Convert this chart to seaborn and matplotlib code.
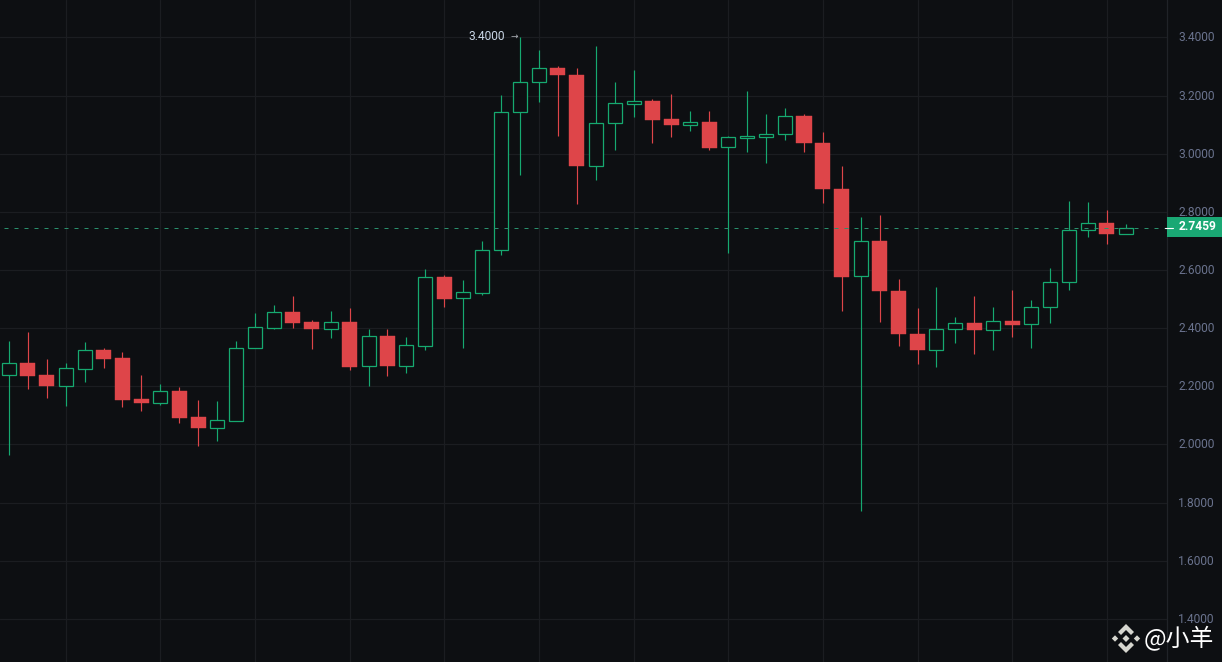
import pandas as pd
import matplotlib
matplotlib.use('Agg')
import matplotlib.pyplot as plt
from matplotlib.patches import Polygon, Rectangle
from matplotlib.transforms import ScaledTranslation
import seaborn as sns

# price data, one entry per candle
opens = [2.237, 2.280, 2.239, 2.202, 2.261, 2.325, 2.298, 2.157, 2.144, 2.184,
         2.095, 2.058, 2.082, 2.330, 2.402, 2.456, 2.421, 2.398, 2.421, 2.268,
         2.373, 2.271, 2.340, 2.576, 2.502, 2.522, 2.667, 3.143, 3.246, 3.295,
         3.271, 2.957, 3.105, 3.172, 3.182, 3.120, 3.100, 3.109, 3.022, 3.055,
         3.057, 3.067, 3.130, 3.037, 2.879, 2.579, 2.700, 2.528, 2.380, 2.324,
         2.396, 2.418, 2.393, 2.425, 2.414, 2.472, 2.558, 2.737, 2.762, 2.725]
closes = [2.279, 2.236, 2.201, 2.262, 2.324, 2.294, 2.153, 2.143, 2.183, 2.091,
          2.057, 2.083, 2.331, 2.403, 2.455, 2.418, 2.397, 2.420, 2.267, 2.372,
          2.270, 2.341, 2.575, 2.501, 2.524, 2.668, 3.143, 3.246, 3.294, 3.269,
          2.959, 3.105, 3.174, 3.181, 3.117, 3.100, 3.108, 3.020, 3.057, 3.060,
          3.067, 3.129, 3.035, 2.877, 2.577, 2.699, 2.526, 2.378, 2.323, 2.396,
          2.417, 2.392, 2.424, 2.412, 2.472, 2.558, 2.737, 2.761, 2.725, 2.7459]
highs = [2.356, 2.386, 2.294, 2.279, 2.352, 2.333, 2.317, 2.238, 2.207, 2.198,
         2.153, 2.150, 2.356, 2.452, 2.480, 2.511, 2.428, 2.459, 2.469, 2.398,
         2.396, 2.370, 2.604, 2.584, 2.565, 2.700, 3.201, 3.400, 3.356, 3.301,
         3.294, 3.371, 3.247, 3.287, 3.187, 3.206, 3.146, 3.147, 3.060, 3.216,
         3.137, 3.156, 3.136, 3.074, 2.957, 2.783, 2.790, 2.569, 2.470, 2.542,
         2.439, 2.509, 2.473, 2.530, 2.496, 2.607, 2.837, 2.834, 2.807, 2.758]
lows = [1.962, 2.192, 2.161, 2.132, 2.214, 2.262, 2.128, 2.115, 2.135, 2.072,
        1.995, 2.012, 2.082, 2.330, 2.397, 2.401, 2.328, 2.367, 2.257, 2.201,
        2.236, 2.247, 2.325, 2.471, 2.331, 2.513, 2.650, 2.925, 3.178, 3.059,
        2.828, 2.911, 3.014, 3.127, 3.038, 3.057, 3.079, 3.014, 2.658, 3.007,
        2.968, 3.048, 3.004, 2.830, 2.460, 1.771, 2.421, 2.340, 2.278, 2.266,
        2.350, 2.312, 2.325, 2.371, 2.333, 2.416, 2.530, 2.715, 2.689, 2.722]
price_ticks = [1.4, 1.6, 1.8, 2.0, 2.2, 2.4, 2.6, 2.8, 3.0, 3.2, 3.4]
time_ticks = [3, 8, 13, 18, 23, 28, 33, 38, 43, 48, 53, 58]
last_price = 2.7459
peak_price = 3.4

BG = '#0d0f12'
GRID = '#1b1d21'
GREEN = '#16a970'
RED = '#de4549'
AXIS_TEXT = '#6a738e'
W, H = 1222, 662

df = pd.DataFrame({'idx': range(len(opens)), 'open': opens, 'close': closes,
                   'high': highs, 'low': lows})
df['body_low'] = df[['open', 'close']].min(axis=1)
df['body_h'] = (df['close'] - df['open']).abs()
up = df[df['close'] >= df['open']]
down = df[df['close'] < df['open']]


def px(x, y):
    return x / W, 1 - y / H


sns.set_style('dark', rc={'axes.facecolor': BG, 'figure.facecolor': BG})
plt.rcParams['font.family'] = ['Roboto', 'Noto Sans CJK SC', 'DejaVu Sans']

fig = plt.figure(figsize=(W / 100, H / 100), dpi=100)
ax = fig.add_axes([0, 0, 1167 / W, 1])

ax.vlines(up['idx'], up['low'], up['high'], color=GREEN, lw=0.85, zorder=1, snap=True)
ax.vlines(down['idx'], down['low'], down['high'], color=RED, lw=0.85, zorder=1, snap=True)

# hollow rising candles, filled falling candles
sns.barplot(data=up, x='idx', y='body_h', bottom=up['body_low'], native_scale=True,
            width=0.74, color=BG, saturation=1, edgecolor=GREEN, linewidth=0.9,
            errorbar=None, ax=ax, zorder=2)
sns.barplot(data=down, x='idx', y='body_h', bottom=down['body_low'], native_scale=True,
            width=0.8, color=RED, saturation=1, edgecolor=RED, linewidth=0.3,
            errorbar=None, ax=ax, zorder=2)

ax.set_xlim(-0.47, 61.18)
ax.set_ylim(1.2515, 3.5285)
ax.set_xlabel('')
ax.set_ylabel('')
ax.set_xticks(time_ticks)
ax.set_xticklabels([])
ax.set_yticks(price_ticks)
ax.set_yticklabels([f'{p:.4f}' for p in price_ticks])
ax.yaxis.tick_right()
ax.tick_params(axis='y', length=0, pad=8.0, labelsize=8.64, labelcolor=AXIS_TEXT)
ax.tick_params(axis='x', length=0)
for label in ax.get_yticklabels():
    label.set_transform(label.get_transform() + ScaledTranslation(0, 1 / 100, fig.dpi_scale_trans))
ax.grid(True, color=GRID, lw=0.9)
ax.set_axisbelow(True)
for name, spine in ax.spines.items():
    spine.set_visible(name == 'right')
    spine.set_color('#202328')
    spine.set_linewidth(0.9)

ax.hlines(last_price, -0.24, 61.18, color='#2a8f6c', lw=0.72, ls=(0, (4, 6)), zorder=5)
ax.annotate(f'{peak_price:.4f}', xy=(26.95, peak_price), xytext=(-10.3, 0.6),
            textcoords='offset points', ha='right', va='center',
            fontsize=8.64, color='#c9d6e6')
ax.annotate('→', xy=(26.95, peak_price), xytext=(-1, 0.6),
            textcoords='offset points', ha='right', va='center',
            fontsize=6.5, color='#a9adb3', family=['DejaVu Sans'])

# last price tag
fig.add_artist(Rectangle(px(1167, 237.3), 55 / W, 20.6 / H, transform=fig.transFigure,
                         facecolor='#1aa874', edgecolor='none'))
fig.add_artist(plt.Line2D([1165 / W, 1173 / W], [1 - 227.7 / H] * 2, color='white', lw=0.8))
fig.text(1197.5 / W, 1 - 227 / H, f'{last_price:.4f}', color='white', fontsize=8.64,
         fontweight='bold', ha='center', va='center')

# watermark
LOGO = '#d6d6cf'
cx, cy = 1126, 638.5
shapes = [
    [(0, -14.5), (8, -6.5), (5, -3.5), (0, -8.5), (-5, -3.5), (-8, -6.5)],
    [(0, 14.5), (8, 6.5), (5, 3.5), (0, 8.5), (-5, 3.5), (-8, 6.5)],
    [(0, -3.5), (3.5, 0), (0, 3.5), (-3.5, 0)],
    [(-11, -3.2), (-7.8, 0), (-11, 3.2), (-14.2, 0)],
    [(11, -3.2), (14.2, 0), (11, 3.2), (7.8, 0)],
]
for shape in shapes:
    fig.add_artist(Polygon([px(cx + a, cy + b) for a, b in shape], closed=True,
                           transform=fig.transFigure, facecolor=LOGO, edgecolor='none'))
fig.text(1144 / W, 1 - 638 / H, '@小羊', color='white', fontsize=17.2, fontweight='medium',
         family=['Noto Sans CJK SC', 'DejaVu Sans'], ha='left', va='center')

fig.savefig('out.png', dpi=100, facecolor=BG)
plt.close(fig)
